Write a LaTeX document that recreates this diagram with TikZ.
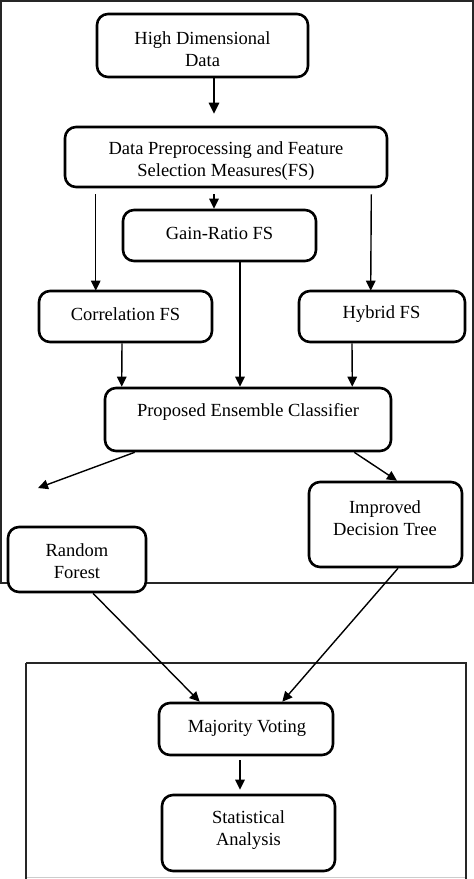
\documentclass[tikz,border=0pt]{standalone}
\usepackage{fontspec}
\setmainfont{Liberation Serif}
\usetikzlibrary{arrows.meta}
\begin{document}
\begin{tikzpicture}[x=1pt,y=-1pt,
  box/.style={draw=black,line width=2.6pt,rounded corners=11pt,fill=white,inner sep=0pt},
  txt/.style={font=\fontsize{18.5}{22}\selectfont,align=center,inner sep=0pt},
  arr/.style={line width=1.4pt,-{Triangle[length=10pt,width=9.5pt]}},
  frame/.style={line width=1.8pt,draw=black!85}]
\useasboundingbox (0,0) rectangle (474,879);
% frames
\draw[frame] (1,1) rectangle (473,583);
\draw[frame,line width=1.4pt] (26,663) -- (26,879) (26,663) -- (466,663) -- (466,879);
\draw[draw=black!20,line width=1pt] (27,877.5) -- (465,877.5);
% boxes
\node[box,minimum width=211pt,minimum height=63pt] (hdd) at (202.5,45.5) {};
\node[box,minimum width=322pt,minimum height=60pt] (dp) at (226,157) {};
\node[box,minimum width=193pt,minimum height=51pt] (gr) at (219.5,235.5) {};
\node[box,minimum width=173pt,minimum height=51pt] (cor) at (125.5,316.5) {};
\node[box,minimum width=166pt,minimum height=51pt] (hyb) at (382,316.5) {};
\node[box,minimum width=286pt,minimum height=63pt] (pec) at (248,419.5) {};
\node[box,minimum width=153pt,minimum height=85pt] (idt) at (385.5,524.5) {};
\node[box,minimum width=138pt,minimum height=65pt] (rf) at (77,559.5) {};
\node[box,minimum width=174pt,minimum height=52pt] (mv) at (246,729) {};
\node[box,minimum width=173pt,minimum height=76pt] (sa) at (248.5,833) {};
% texts
\node[txt] (hddt) at (202.5,49) {High Dimensional\\Data};
\node[txt] (dpt) at (226,161) {Data Preprocessing and Feature\\Selection Measures(FS)};
\node[txt] (grt) at (219.5,233) {Gain-Ratio FS};
\node[txt] (cort) at (125.5,314) {Correlation FS};
\node[txt] (hybt) at (381.5,314) {Hybrid FS};
\node[txt] (pect) at (248,412) {Proposed Ensemble Classifier};
\node[txt] (idtt) at (385,518.5) {Improved\\Decision Tree};
\node[txt] (rft) at (77,561) {Random\\Forest};
\node[txt] (mvt) at (247,728.5) {Majority Voting};
\node[txt] (sat) at (248.5,830.5) {Statistical\\Analysis};
% connectors
\coordinate (free) at (38,488);
\draw[arr,-{Triangle[length=11pt,width=10.5pt]}] ([xshift=11.5pt]hdd.south) -- ([xshift=-12pt,yshift=12pt]dp.north);
\draw[arr] ([xshift=-12pt,yshift=-6pt]dp.south) -- ([xshift=-5.5pt]gr.north);
\draw[arr] ([xshift=32pt,yshift=-6pt]dp.south west) -- ([xshift=58pt,yshift=-1pt]cor.north west);
\draw[arr] ([xshift=-17pt,yshift=-6pt]dp.south east) -- ([xshift=73pt,yshift=-1pt]hyb.north west);
\draw[arr] ([xshift=20.5pt]gr.south) -- ([xshift=-8pt]pec.north);
\draw[arr] ([xshift=-3.5pt]cor.south) -- ([xshift=18pt]pec.north west);
\draw[arr] ([xshift=-30pt]hyb.south) -- ([xshift=-40pt]pec.north east);
\draw[arr] ([xshift=31pt]pec.south west) -- (free);
\draw[arr] ([xshift=-38pt]pec.south east) -- ([xshift=11.5pt]idt.north);
\draw[arr] ([xshift=16pt]rf.south) -- ([xshift=42pt]mv.north west);
\draw[arr] ([xshift=12.5pt]idt.south) -- ([xshift=-52pt]mv.north east);
\draw[arr] ([xshift=-6pt,yshift=-4pt]mv.south) -- ([xshift=-8.5pt,yshift=4pt]sa.north);
\end{tikzpicture}
\end{document}
